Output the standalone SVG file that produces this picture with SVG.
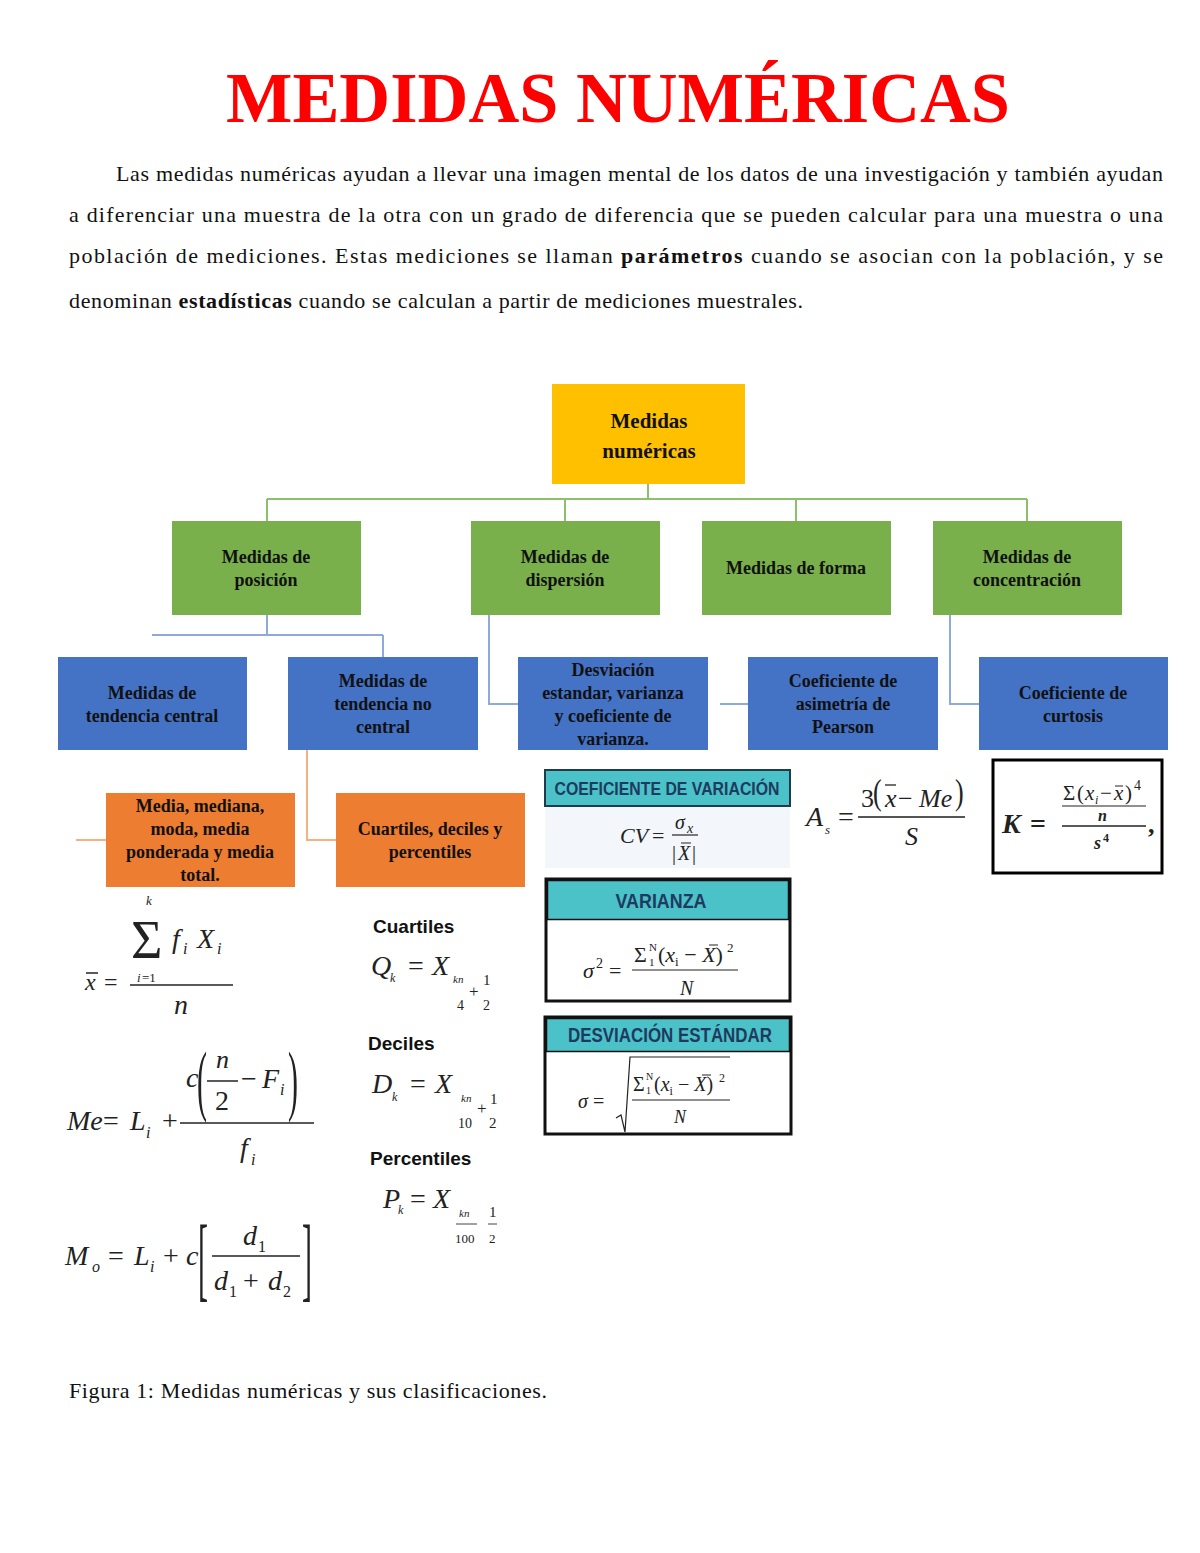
<svg xmlns="http://www.w3.org/2000/svg" width="1200" height="1553" viewBox="0 0 1200 1553">
<style>
.title{font-family:"Liberation Serif",serif;font-weight:bold;fill:#FF0000;font-size:71px}
.p{font-family:"Liberation Serif",serif;font-size:22px;fill:#111}
.b{font-weight:bold}
.nt{font-family:"Liberation Serif",serif;font-weight:bold;font-size:18px;fill:#111;text-anchor:middle}
.yt{font-family:"Liberation Serif",serif;font-weight:bold;font-size:21px;fill:#111;text-anchor:middle}
.m{font-family:"Liberation Serif",serif;font-style:italic;fill:#222}
.mr{font-family:"Liberation Serif",serif;fill:#222}
.lbl{font-family:"Liberation Sans",sans-serif;font-weight:bold;font-size:19px;fill:#111}
.hd{font-family:"Liberation Sans",sans-serif;font-weight:bold;fill:#1F3A5F;text-anchor:middle}
.cg{stroke:#8CC16C;stroke-width:2;fill:none}
.cb{stroke:#8EA9DB;stroke-width:2;fill:none}
.co{stroke:#F4B183;stroke-width:2;fill:none}
.fl{stroke:#222;stroke-width:1.5}
</style>

<text class="title" x="618" y="122" text-anchor="middle" textLength="784" lengthAdjust="spacingAndGlyphs">MEDIDAS NUMÉRICAS</text>

<text class="p" x="116" y="181" textLength="1047" lengthAdjust="spacing">Las medidas numéricas ayudan a llevar una imagen mental de los datos de una investigación y también ayudan</text>
<text class="p" x="69" y="222" textLength="1094" lengthAdjust="spacing">a diferenciar una muestra de la otra con un grado de diferencia que se pueden calcular para una muestra o una</text>
<text class="p" x="69" y="263" textLength="1094" lengthAdjust="spacing">población de mediciones. Estas mediciones se llaman <tspan class="b">parámetros</tspan> cuando se asocian con la población, y se</text>
<text class="p" x="69" y="308" textLength="734" lengthAdjust="spacing">denominan <tspan class="b">estadísticas</tspan> cuando se calculan a partir de mediciones muestrales.</text>

<g id="connectors">
  <path class="cg" d="M648 484V499M267 499H1027M267 499V521M565 499V521M796 499V521M1027 499V521"/>
  <path class="cb" d="M267 615V635M152 635H383M383 635V657"/>
  <path class="cb" d="M489 615V704H518"/>
  <path class="cb" d="M720 704H748"/>
  <path class="cb" d="M950 615V704H979"/>
  <path class="co" d="M307 750V840H336"/>
  <path class="co" d="M76 840H106"/>
</g>

<g id="n-root">
  <rect x="552" y="384" width="193" height="100" fill="#FFC000"/>
  <text class="yt" x="649" y="428">Medidas</text>
  <text class="yt" x="649" y="458">numéricas</text>
</g>

<g id="n-posicion">
  <rect x="172" y="521" width="189" height="94" fill="#79B04C"/>
  <text class="nt" x="266" y="563">Medidas de</text>
  <text class="nt" x="266" y="586">posición</text>
</g>
<g id="n-dispersion">
  <rect x="471" y="521" width="189" height="94" fill="#79B04C"/>
  <text class="nt" x="565" y="563">Medidas de</text>
  <text class="nt" x="565" y="586">dispersión</text>
</g>
<g id="n-forma">
  <rect x="702" y="521" width="189" height="94" fill="#79B04C"/>
  <text class="nt" x="796" y="574">Medidas de forma</text>
</g>
<g id="n-concentracion">
  <rect x="933" y="521" width="189" height="94" fill="#79B04C"/>
  <text class="nt" x="1027" y="563">Medidas de</text>
  <text class="nt" x="1027" y="586">concentración</text>
</g>

<g id="n-tendencia-central">
  <rect x="58" y="657" width="189" height="93" fill="#4472C4"/>
  <text class="nt" x="152" y="699">Medidas de</text>
  <text class="nt" x="152" y="722">tendencia central</text>
</g>
<g id="n-tendencia-no-central">
  <rect x="288" y="657" width="190" height="93" fill="#4472C4"/>
  <text class="nt" x="383" y="687">Medidas de</text>
  <text class="nt" x="383" y="710">tendencia no</text>
  <text class="nt" x="383" y="733">central</text>
</g>
<g id="n-desviacion">
  <rect x="518" y="657" width="190" height="93" fill="#4472C4"/>
  <text class="nt" x="613" y="676">Desviación</text>
  <text class="nt" x="613" y="699">estandar, varianza</text>
  <text class="nt" x="613" y="722">y coeficiente de</text>
  <text class="nt" x="613" y="745">varianza.</text>
</g>
<g id="n-asimetria">
  <rect x="748" y="657" width="190" height="93" fill="#4472C4"/>
  <text class="nt" x="843" y="687">Coeficiente de</text>
  <text class="nt" x="843" y="710">asimetría de</text>
  <text class="nt" x="843" y="733">Pearson</text>
</g>
<g id="n-curtosis">
  <rect x="979" y="657" width="189" height="93" fill="#4472C4"/>
  <text class="nt" x="1073" y="699">Coeficiente de</text>
  <text class="nt" x="1073" y="722">curtosis</text>
</g>

<g id="n-media">
  <rect x="106" y="793" width="189" height="94" fill="#ED7D31"/>
  <text class="nt" x="200" y="812">Media, mediana,</text>
  <text class="nt" x="200" y="835">moda, media</text>
  <text class="nt" x="200" y="858">ponderada y media</text>
  <text class="nt" x="200" y="881">total.</text>
</g>
<g id="n-cuartiles">
  <rect x="336" y="793" width="189" height="94" fill="#ED7D31"/>
  <text class="nt" x="430" y="835">Cuartiles, deciles y</text>
  <text class="nt" x="430" y="858">percentiles</text>
</g>

<!-- Mean formula -->
<g id="f-media">
  <text class="m" x="85" y="990" font-size="24">x</text>
  <line x1="86" y1="973" x2="98" y2="973" class="fl"/>
  <text class="mr" x="104" y="990" font-size="24">=</text>
  <text class="mr" x="131" y="958" font-size="54">Σ</text>
  <text class="m" x="146" y="905" font-size="13">k</text>
  <text class="m" x="137" y="982" font-size="13">i</text><text class="mr" x="142" y="982" font-size="13">=1</text>
  <text class="m" x="172" y="948" font-size="28">f</text><text class="m" x="183" y="954" font-size="16">i</text>
  <text class="m" x="197" y="948" font-size="28">X</text><text class="m" x="217" y="954" font-size="16">i</text>
  <line x1="130" y1="985" x2="233" y2="985" class="fl"/>
  <text class="m" x="174" y="1014" font-size="28">n</text>
</g>

<!-- Median formula -->
<g id="f-mediana">
  <text class="m" x="67" y="1130" font-size="28">Me</text>
  <text class="mr" x="103" y="1130" font-size="28">=</text>
  <text class="m" x="130" y="1130" font-size="28">L</text><text class="m" x="146" y="1138" font-size="16">i</text>
  <text class="mr" x="162" y="1130" font-size="28">+</text>
  <line x1="180" y1="1123" x2="314" y2="1123" class="fl"/>
  <text class="m" x="186" y="1087" font-size="28">c</text>
  <text class="mr" transform="translate(197,1106) scale(1,2.6)" font-size="30">(</text>
  <text class="m" x="216" y="1068" font-size="26">n</text>
  <line x1="207" y1="1081" x2="238" y2="1081" class="fl"/>
  <text class="mr" x="215" y="1110" font-size="28">2</text>
  <text class="mr" x="241" y="1088" font-size="28">−</text>
  <text class="m" x="262" y="1088" font-size="28">F</text><text class="m" x="280" y="1095" font-size="16">i</text>
  <text class="mr" transform="translate(288,1106) scale(1,2.6)" font-size="30">)</text>
  <text class="m" x="240" y="1157" font-size="28">f</text><text class="m" x="251" y="1165" font-size="16">i</text>
</g>

<!-- Mode formula -->
<g id="f-moda">
  <text class="m" x="65" y="1265" font-size="28">M</text><text class="m" x="92" y="1272" font-size="16">o</text>
  <text class="mr" x="108" y="1265" font-size="28">=</text>
  <text class="m" x="134" y="1265" font-size="28">L</text><text class="m" x="150" y="1272" font-size="16">i</text>
  <text class="mr" x="163" y="1265" font-size="28">+</text>
  <text class="m" x="186" y="1265" font-size="28">c</text>
  <text class="mr" transform="translate(198,1290) scale(1,3.1)" font-size="30">[</text>
  <text class="m" x="243" y="1245" font-size="28">d</text><text class="mr" x="258" y="1252" font-size="16">1</text>
  <line x1="212" y1="1256" x2="300" y2="1256" class="fl"/>
  <text class="m" x="214" y="1290" font-size="28">d</text><text class="mr" x="229" y="1297" font-size="16">1</text>
  <text class="mr" x="243" y="1290" font-size="28">+</text>
  <text class="m" x="268" y="1290" font-size="28">d</text><text class="mr" x="283" y="1297" font-size="16">2</text>
  <text class="mr" transform="translate(302,1290) scale(1,3.1)" font-size="30">]</text>
</g>

<!-- Quantiles -->
<g id="f-cuartiles">
  <text class="lbl" x="373" y="933">Cuartiles</text>
  <text class="m" x="371" y="975" font-size="28">Q</text><text class="m" x="390" y="982" font-size="12">k</text>
  <text class="mr" x="408" y="975" font-size="28">=</text>
  <text class="m" x="432" y="975" font-size="28">X</text>
  <text class="m" x="453" y="983" font-size="11">kn</text>
  <text class="mr" x="457" y="1010" font-size="14">4</text>
  <text class="mr" x="469" y="997" font-size="17">+</text>
  <text class="mr" x="483" y="985" font-size="15">1</text>
  <text class="mr" x="483" y="1010" font-size="14">2</text>
</g>
<g id="f-deciles">
  <text class="lbl" x="368" y="1050">Deciles</text>
  <text class="m" x="372" y="1093" font-size="28">D</text><text class="m" x="392" y="1101" font-size="12">k</text>
  <text class="mr" x="410" y="1093" font-size="28">=</text>
  <text class="m" x="435" y="1093" font-size="28">X</text>
  <text class="m" x="461" y="1102" font-size="11">kn</text>
  <text class="mr" x="458" y="1128" font-size="14">10</text>
  <text class="mr" x="477" y="1114" font-size="17">+</text>
  <text class="mr" x="490" y="1104" font-size="15">1</text>
  <text class="mr" x="489" y="1128" font-size="15">2</text>
</g>
<g id="f-percentiles">
  <text class="lbl" x="370" y="1165">Percentiles</text>
  <text class="m" x="383" y="1208" font-size="28">P</text><text class="m" x="398" y="1214" font-size="12">k</text>
  <text class="mr" x="410" y="1208" font-size="28">=</text>
  <text class="m" x="433" y="1208" font-size="28">X</text>
  <text class="m" x="459" y="1217" font-size="11">kn</text>
  <line x1="456" y1="1224" x2="477" y2="1224" stroke="#444" stroke-width="1"/>
  <text class="mr" x="455" y="1243" font-size="13">100</text>
  <text class="mr" x="489" y="1217" font-size="15">1</text>
  <line x1="488" y1="1224" x2="497" y2="1224" stroke="#444" stroke-width="1"/>
  <text class="mr" x="489" y="1243" font-size="13">2</text>
</g>

<!-- Coeficiente de variación -->
<g id="f-cv">
  <rect x="545" y="806" width="245" height="62" fill="#F3F7FB"/>
  <rect x="545" y="770" width="245" height="36" fill="#4BC1C8" stroke="#1E3C4C" stroke-width="2"/>
  <text class="hd" x="667" y="795" font-size="18" textLength="225" lengthAdjust="spacingAndGlyphs">COEFICIENTE DE VARIACIÓN</text>
  <text class="m" x="620" y="843" font-size="22">CV</text>
  <text class="mr" x="652" y="843" font-size="22">=</text>
  <text class="m" x="675" y="829" font-size="20">σ</text><text class="m" x="687" y="833" font-size="14">x</text>
  <line x1="672" y1="835" x2="698" y2="835" stroke="#222" stroke-width="1.2"/>
  <text class="mr" x="672" y="860" font-size="20">|</text>
  <text class="m" x="678" y="860" font-size="20">X</text>
  <line x1="681" y1="843" x2="691" y2="843" stroke="#222" stroke-width="1"/>
  <text class="mr" x="692" y="860" font-size="20">|</text>
</g>

<!-- Varianza -->
<g id="f-varianza">
  <rect x="546" y="879" width="244" height="122" fill="#FFFFFF" stroke="#111" stroke-width="3"/>
  <rect x="547.5" y="880.5" width="241" height="39" fill="#4BC1C8" stroke="#111" stroke-width="1.5"/>
  <text class="hd" x="661" y="908" font-size="20" textLength="91" lengthAdjust="spacingAndGlyphs">VARIANZA</text>
  <text class="m" x="583" y="978" font-size="22">σ</text><text class="mr" x="596" y="968" font-size="14">2</text>
  <text class="mr" x="609" y="978" font-size="22">=</text>
  <text class="mr" x="634" y="962" font-size="22">Σ</text>
  <text class="mr" x="649" y="951" font-size="11">N</text><text class="mr" x="649" y="966" font-size="11">1</text>
  <text class="mr" x="658" y="962" font-size="22">(<tspan font-style="italic">x</tspan><tspan font-size="13" dy="4">i</tspan><tspan dy="-4"> − </tspan><tspan font-style="italic">X</tspan>)</text>
  <line x1="709" y1="945" x2="718" y2="945" stroke="#222" stroke-width="1"/>
  <text class="mr" x="727" y="952" font-size="13">2</text>
  <line x1="632" y1="970" x2="738" y2="970" stroke="#222" stroke-width="1.2"/>
  <text class="m" x="680" y="995" font-size="20">N</text>
</g>

<!-- Desviación estándar -->
<g id="f-desviacion">
  <rect x="545" y="1017" width="246" height="117" fill="#FFFFFF" stroke="#111" stroke-width="3"/>
  <rect x="546.5" y="1018.5" width="243" height="33" fill="#4BC1C8" stroke="#111" stroke-width="1.5"/>
  <text class="hd" x="670" y="1042" font-size="20" textLength="204" lengthAdjust="spacingAndGlyphs">DESVIACIÓN ESTÁNDAR</text>
  <text class="m" x="578" y="1108" font-size="20">σ</text>
  <text class="mr" x="593" y="1108" font-size="20">=</text>
  <polyline points="616,1118 621,1115 625,1132 630,1057 730,1057" fill="none" stroke="#222" stroke-width="1.2"/>
  <text class="mr" x="633" y="1091" font-size="20">Σ</text>
  <text class="mr" x="646" y="1080" font-size="10">N</text><text class="mr" x="646" y="1094" font-size="10">1</text>
  <text class="mr" x="654" y="1091" font-size="20">(<tspan font-style="italic">x</tspan><tspan font-size="12" dy="4">i</tspan><tspan dy="-4"> − </tspan><tspan font-style="italic">X</tspan>)</text>
  <line x1="702" y1="1075" x2="711" y2="1075" stroke="#222" stroke-width="1"/>
  <text class="mr" x="719" y="1082" font-size="12">2</text>
  <line x1="632" y1="1100" x2="730" y2="1100" stroke="#222" stroke-width="1.2"/>
  <text class="m" x="674" y="1123" font-size="18">N</text>
</g>

<!-- Asimetría de Pearson -->
<g id="f-asimetria">
  <text class="m" x="806" y="826" font-size="28">A</text><text class="m" x="825" y="834" font-size="13">s</text>
  <text class="mr" x="838" y="826" font-size="28">=</text>
  <text class="mr" x="861" y="807" font-size="26">3</text>
  <text class="mr" transform="translate(873,804) scale(1,1.4)" font-size="26">(</text>
  <text class="m" x="885" y="807" font-size="26">x</text>
  <line x1="885" y1="785" x2="896" y2="785" stroke="#222" stroke-width="1.3"/>
  <text class="mr" x="898" y="807" font-size="26">−</text>
  <text class="m" x="919" y="807" font-size="26">Me</text>
  <text class="mr" transform="translate(955,804) scale(1,1.4)" font-size="26">)</text>
  <line x1="858" y1="817" x2="965" y2="817" stroke="#555" stroke-width="2"/>
  <text class="m" x="905" y="845" font-size="26">S</text>
</g>

<!-- Curtosis -->
<g id="f-curtosis">
  <rect x="993" y="760" width="169" height="113" fill="#FFFFFF" stroke="#000" stroke-width="3"/>
  <text class="m" x="1002" y="833" font-size="28" font-weight="bold">K</text>
  <text class="mr" x="1030" y="833" font-size="28" font-weight="bold">=</text>
  <text class="mr" x="1063" y="800" font-size="21">Σ</text>
  <text class="mr" x="1077" y="800" font-size="21">(</text>
  <text class="m" x="1085" y="800" font-size="21">x</text>
  <text class="m" x="1095" y="804" font-size="12">i</text>
  <text class="mr" x="1100" y="800" font-size="21">−</text>
  <text class="m" x="1114" y="800" font-size="21">x</text>
  <line x1="1115" y1="786" x2="1123" y2="786" stroke="#222" stroke-width="1"/>
  <text class="mr" x="1125" y="800" font-size="21">)</text>
  <text class="mr" x="1134" y="790" font-size="14">4</text>
  <line x1="1062" y1="806" x2="1146" y2="806" stroke="#222" stroke-width="1.2"/>
  <text class="m" x="1098" y="821" font-size="16" font-weight="bold">n</text>
  <line x1="1062" y1="826" x2="1146" y2="826" stroke="#222" stroke-width="1.5"/>
  <text class="m" x="1094" y="849" font-size="18" font-weight="bold">s</text>
  <text class="mr" x="1103" y="842" font-size="12" font-weight="bold">4</text>
  <text class="mr" x="1148" y="833" font-size="26" font-weight="bold">,</text>
</g>

<text class="p" x="69" y="1398" textLength="478" lengthAdjust="spacing">Figura 1: Medidas numéricas y sus clasificaciones.</text>
</svg>
